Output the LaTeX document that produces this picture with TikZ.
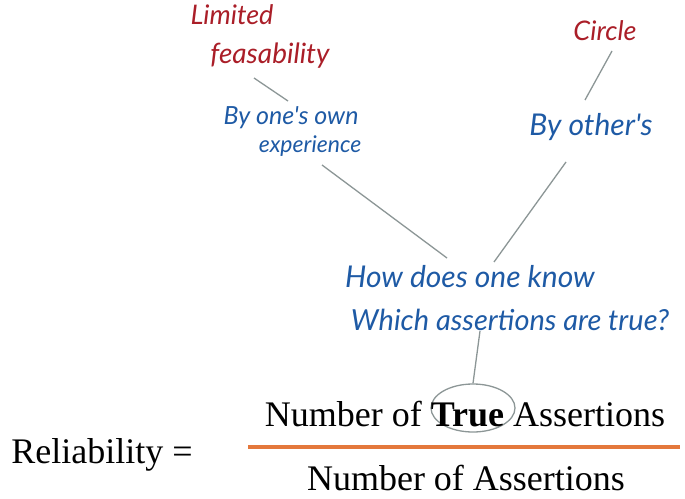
\documentclass[tikz,border=0pt]{standalone}
\usepackage{fontspec}
\setmainfont{Liberation Serif}
\newfontfamily\handfont{Lato}
\usetikzlibrary{calc,shapes.geometric}
\definecolor{handred}{RGB}{170,30,40}
\definecolor{handblue}{RGB}{30,90,165}
\definecolor{linegray}{RGB}{140,150,150}
\definecolor{fracorange}{RGB}{228,120,60}
\newcommand{\hsz}[1]{\handfont\itshape\fontsize{#1}{#1}\selectfont}
\tikzset{
  hand/.style={inner sep=0pt, anchor=center},
  redhand/.style={hand, text=handred, font=\hsz{27}},
  bluehand/.style={hand, text=handblue, font=\hsz{25}},
  qhand/.style={hand, text=handblue, font=\hsz{30}},
  link/.style={draw=linegray, line width=1.3pt},
  formula/.style={font=\fontsize{36}{40}\selectfont, inner sep=0pt, anchor=center},
}
\begin{document}
\begin{tikzpicture}[x=1pt,y=-1pt]
\useasboundingbox (0,0) rectangle (685,498);
% red annotations
\node[redhand] (lim) at (232,15) {Limited};
\node[redhand, font=\hsz{28}] (feas) at (270,56) {feasability};
\node[redhand] (circ) at (605,31) {Circle};
% blue answers
\node[bluehand] (own) at (291,118) {By one's own};
\node[bluehand, font=\hsz{23}] (exp) at (310,146) {experience};
\node[bluehand, font=\hsz{30}] (oth) at (591,127) {By other's};
% question
\node[qhand] (q1) at (470,277) {How does one know};
\node[qhand, font=\hsz{29}] (q2) at (510,320) {Which assertions are true?};
% formula
\node[ellipse, draw=linegray, line width=1.3pt, minimum width=84pt, minimum height=48pt, inner sep=0pt] (tru) at (473,408) {};
\node[formula] (num) at (465,414) {Number of \textbf{True} Assertions};
\node[formula] (den) at (466,478) {Number of Assertions};
\node[formula] (rel) at (102,455) {Reliability =};
\coordinate (fl) at (248,447);
\coordinate (fr) at (680,447);
\draw[fracorange, line width=3.5pt] (fl) -- (fr);
% connectors
\draw[link] ($(feas)+(-16,22)$) -- ($(own)+(-3,-17)$);
\draw[link] ($(circ)+(7,20)$) -- ($(oth)+(-6,-27)$);
\draw[link] ($(exp)+(12,19)$) -- ($(q1)+(-23,-19)$);
\draw[link] ($(oth)+(-25,35)$) -- ($(q1)+(24,-15)$);
\draw[link] ($(q2)+(-30,11)$) -- (tru.north);
\end{tikzpicture}
\end{document}
